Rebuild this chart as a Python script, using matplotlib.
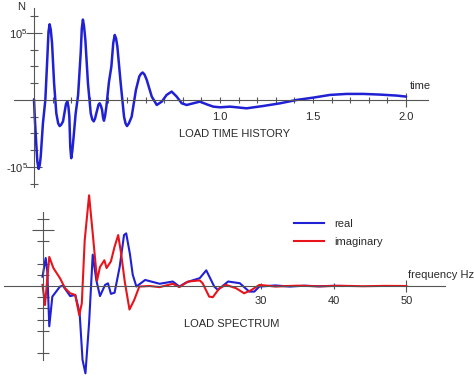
import matplotlib
matplotlib.use("Agg")
import matplotlib.pyplot as plt
from matplotlib.ticker import FixedLocator

plt.rcParams['font.family'] = ['Liberation Sans', 'DejaVu Sans']
plt.rcParams['mathtext.fontset'] = 'custom'
plt.rcParams['mathtext.rm'] = 'Liberation Sans'

# ---- data: load time history (units of 1e5 N) ----
t_time = [0, 0.004, 0.012, 0.018, 0.025, 0.031, 0.036, 0.048, 0.061, 0.072, 0.078, 0.084,
          0.09, 0.097, 0.108, 0.12, 0.13, 0.138, 0.146, 0.156, 0.172, 0.179, 0.185, 0.19,
          0.195, 0.2, 0.206, 0.213, 0.224, 0.237, 0.251, 0.257, 0.263, 0.269, 0.276, 0.29,
          0.305, 0.313, 0.321, 0.328, 0.335, 0.347, 0.353, 0.36, 0.366, 0.371, 0.376, 0.382,
          0.389, 0.403, 0.416, 0.426, 0.434, 0.441, 0.448, 0.466, 0.484, 0.492, 0.5, 0.51,
          0.525, 0.548, 0.566, 0.575, 0.584, 0.594, 0.606, 0.633, 0.66, 0.687, 0.713,
          0.74, 0.767, 0.794, 0.821, 0.856, 0.892, 0.928, 0.964, 1.0, 1.054, 1.143, 1.233,
          1.323, 1.412, 1.502, 1.591, 1.681, 1.77, 1.86, 1.95, 2.0]
load = [0.01, -0.25, -0.65, -0.92, -1.03, -0.97, -0.85, -0.35, 0.0, 0.65, 1.02, 1.13,
        1.05, 0.85, 0.25, -0.2, -0.35, -0.39, -0.37, -0.32, -0.06, -0.02, -0.1, -0.25,
        -0.7, -0.87, -0.76, -0.55, -0.2, 0.07, 0.7, 1.07, 1.2, 1.1, 0.9, 0.25,
        -0.2, -0.29, -0.32, -0.28, -0.2, -0.07, -0.05, -0.09, -0.15, -0.26, -0.31, -0.24,
        -0.1, 0.27, 0.5, 0.85, 0.97, 0.92, 0.8, 0.25, -0.25, -0.35, -0.39, -0.35,
        -0.25, 0.15, 0.35, 0.39, 0.41, 0.38, 0.3, 0.05, -0.075, -0.025, 0.075,
        0.125, 0.05, -0.05, -0.075, -0.05, -0.025, -0.065, -0.1, -0.11, -0.1, -0.125, -0.09,
        -0.05, 0.0, 0.035, 0.075, 0.09, 0.09, 0.08, 0.065, 0.05]

# ---- data: load spectrum ----
freq_real = [0, 0.44, 0.66, 0.93, 1.35, 2.4, 2.8, 3.8, 4.5, 5.1, 5.5, 5.9, 6.4, 6.9, 7.4,
             7.9, 8.6, 9.0, 9.4, 9.9, 10.6, 11.2, 11.5, 12.0, 12.4, 12.9, 14.1, 16.1, 17.9,
             18.8, 19.7, 20.6, 21.6, 22.5, 23.6, 24.1, 25.5, 27.1, 28.4, 29.1, 29.8, 32,
             34, 36, 38, 40, 41.2]
real = [0.83, 2.5, 1.3, -3.6, -0.95, -0.05, 0.03, -0.9, -0.8, -2.4, -6.6, -7.8, -3.3, 2.8, 0.5,
        -0.9, 0.1, 0.24, -0.7, -0.6, 1.7, 4.55, 4.7, 2.9, 1.0, -0.05, 0.54, 0.2, 0.4,
        -0.05, 0.3, 0.5, 0.7, 1.4, -0.05, -0.35, 0.4, 0.25, -0.5, -0.5, -0.05, 0.05,
        -0.05, 0.03, -0.03, 0.02, 0.0]
freq_imag = [0, 0.34, 0.93, 1.5, 2.4, 3.1, 3.8, 4.5, 5.05, 5.4, 5.8, 6.4, 6.9, 7.5, 7.9,
             8.5, 8.8, 9.4, 9.9, 10.4, 10.8, 11.3, 11.95, 12.6, 13.3, 14.7, 16.1, 17.9,
             18.8, 20.0, 21.6, 22.0, 22.9, 23.4, 24.3, 25.2, 26.6, 27.7, 28.7, 29.8, 32,
             35, 38, 41, 44, 47, 50]
imag = [0.1, -1.7, 2.6, 1.6, 0.7, -0.2, -0.65, -0.8, -2.6, -1.55, 4.1, 8.1, 4.7, 0.5, 1.7,
        2.3, 1.6, 2.2, 3.5, 4.55, 2.9, 0.4, -2.1, -1.25, -0.05, 0.0, -0.1, 0.2,
        -0.1, 0.4, 0.5, 0.25, -0.95, -1.0, -0.2, 0.1, -0.2, -0.65, -0.36, 0.1, -0.05,
        0.03, -0.03, 0.02, -0.02, 0.01, 0.0]

time_major = [1.0, 1.5, 2.0]
time_labels = ['1.0', '1.5', '2.0']
load_major = [-1.0, 1.0]
load_labels = ['-10$^5$', '10$^5$']
freq_major = [30, 40, 50]
freq_labels = ['30', '40', '50']

W, H = 474, 381
fig = plt.figure(figsize=(W / 100, H / 100), dpi=100)
TXT = '#2a2a2a'
AXC = '#555555'
BLUE = '#2020d4'
RED = '#e8141c'


def fx(x):
    return x / W


def fy(y):
    return 1 - y / H


def axes_px(x0, y0, x1, y1):
    return fig.add_axes([fx(x0), fy(y1), fx(x1) - fx(x0), fy(y0) - fy(y1)])


def style(ax):
    ax.patch.set_visible(False)
    for s in ('top', 'right'):
        ax.spines[s].set_visible(False)
    for s in ('left', 'bottom'):
        ax.spines[s].set_position(('data', 0))
        ax.spines[s].set_color(AXC)
        ax.spines[s].set_linewidth(0.8)
    ax.tick_params(which='both', direction='inout', color=AXC, width=0.8,
                   labelsize=8, labelcolor=TXT)


# ---- top panel ----
ax1 = axes_px(14, 8, 428, 187)
style(ax1)
ax1.set_xlim(-0.1075, 2.118)
ax1.set_ylim(-1.30, 1.373)
ax1.plot(t_time, load, color=BLUE, lw=1.8, clip_on=False,
         solid_joinstyle='round', solid_capstyle='round')
ax1.xaxis.set_major_locator(FixedLocator(time_major))
ax1.set_xticklabels(time_labels)
ax1.xaxis.set_minor_locator(FixedLocator([i / 10 for i in range(1, 20) if i not in (10, 15)]))
ax1.yaxis.set_major_locator(FixedLocator(load_major))
ax1.set_yticklabels(load_labels)
ax1.yaxis.set_minor_locator(FixedLocator([-1.25, -0.75, -0.5, -0.25, 0.25, 0.5, 0.75, 1.25]))
ax1.tick_params(axis='x', which='both', length=5, pad=6)
ax1.tick_params(axis='y', which='minor', length=6)
ax1.tick_params(axis='y', which='major', length=11, pad=-1)
ax1.xaxis.get_major_ticks()[2].tick1line.set_markersize(10)

fig.text(fx(21), fy(7), 'N', fontsize=8, color=TXT, ha='center', va='center')
fig.text(fx(410), fy(86), 'time', fontsize=8, color=TXT, ha='left', va='center')
fig.text(fx(235), fy(134), 'LOAD TIME HISTORY', fontsize=8, color=TXT, ha='center', va='center')

# ---- bottom panel ----
ax2 = axes_px(4, 212, 445, 360)
style(ax2)
ax2.set_xlim(-5.29, 55.3)
ax2.set_ylim(-6.61, 6.61)
l_real, = ax2.plot(freq_real, real, color=BLUE, lw=1.5, clip_on=False, label='real')
l_imag, = ax2.plot(freq_imag, imag, color=RED, lw=1.5, clip_on=False, label='imaginary')
ax2.xaxis.set_major_locator(FixedLocator(freq_major))
ax2.set_xticklabels(freq_labels)
ax2.yaxis.set_major_locator(FixedLocator([5]))
ax2.yaxis.set_minor_locator(FixedLocator([6, 4, 2, 1, -1, -2, -3, -4, -6]))
ax2.set_yticklabels([''])
ax2.tick_params(axis='x', which='major', length=5, pad=5)
ax2.tick_params(axis='y', which='minor', length=8)
ax2.tick_params(axis='y', which='major', length=16)
ax2.xaxis.get_major_ticks()[2].tick1line.set_markersize(9)

fig.text(fx(408), fy(275), 'frequency Hz', fontsize=8, color=TXT, ha='left', va='center')
fig.text(fx(232), fy(324), 'LOAD SPECTRUM', fontsize=8, color=TXT, ha='center', va='center')

leg = fig.legend(handles=[l_real, l_imag], loc='upper left',
                 bbox_to_anchor=(fx(294), fy(219)), frameon=False, fontsize=8,
                 handlelength=2.7, handletextpad=0.9, labelspacing=0.75,
                 borderpad=0, borderaxespad=0, labelcolor=TXT)

fig.savefig('out.png', dpi=100)
